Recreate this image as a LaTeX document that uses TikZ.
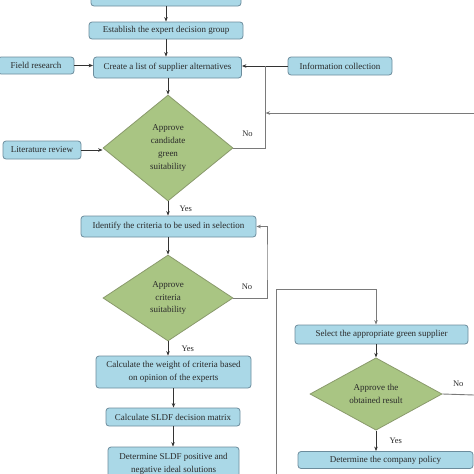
\documentclass[tikz,border=0pt]{standalone}
\usepackage{fontspec}
\setmainfont{Liberation Serif}
\usetikzlibrary{positioning, shapes.geometric, arrows.meta}
\definecolor{boxB}{HTML}{AAD8E7}
\definecolor{boxE}{HTML}{6C8C9C}
\definecolor{decG}{HTML}{A9C583}
\definecolor{decE}{HTML}{8A9A6C}
\definecolor{lineK}{HTML}{333333}
\definecolor{loopK}{HTML}{7A7A7A}
\definecolor{txtK}{HTML}{2A2A2A}

\tikzset{
  stepbox/.style={draw=boxE, fill=boxB, rounded corners=3pt, line width=0.8pt,
    text=txtK, align=center, inner sep=0pt},
  check/.style={diamond, draw=decE, fill=decG, line width=0.8pt,
    text=txtK, align=center, inner sep=0pt},
  flow/.style={lineK, line width=0.7pt, -{Stealth[length=4.5pt,width=3.5pt]}},
  back/.style={loopK, line width=0.9pt},
  tag/.style={text=txtK, font=\fontsize{8.5}{9}\selectfont}
}

\begin{document}
\begin{tikzpicture}[x=1pt, y=-1pt, font=\fontsize{9}{12.8}\selectfont]
  \useasboundingbox (0,0) rectangle (474,474);
  \clip (0,0) rectangle (474,474);

  % left column
  \node[stepbox, minimum width=150pt, minimum height=22pt] (start) at (166,-5) {};
  \node[stepbox, minimum width=154pt, minimum height=17pt] (group) at (166,30.5)
     {Establish the expert decision group};
  \node[stepbox, minimum width=148pt, minimum height=21pt] (list) at (167.5,67.5)
     {Create a list of supplier alternatives};
  \node[stepbox, minimum width=76pt, minimum height=17pt] (field) at (36,65.5)
     {Field research};
  \node[stepbox, minimum width=104pt, minimum height=18pt] (info) at (340,66)
     {Information collection};
  \node[check, minimum width=130pt, minimum height=106pt] (cand) at (168,148)
     {Approve\\candidate\\green\\suitability};
  \node[stepbox, minimum width=78pt, minimum height=18pt] (lit) at (42,150)
     {Literature review};
  \node[stepbox, minimum width=175pt, minimum height=21pt] (crit) at (168.5,226.5)
     {Identify the criteria to be used in selection};
  \node[check, minimum width=130pt, minimum height=86pt] (critok) at (168,298)
     {Approve\\criteria\\suitability};
  \node[stepbox, minimum width=155pt, minimum height=32pt] (weight) at (173.5,372)
     {Calculate the weight of criteria based\\on opinion of the experts};
  \node[stepbox, minimum width=134pt, minimum height=18pt] (matrix) at (173,417)
     {Calculate SLDF decision matrix};
  \node[stepbox, minimum width=131pt, minimum height=34pt] (ideal) at (173.5,464)
     {Determine SLDF positive and\\negative ideal solutions};

  % right column
  \node[stepbox, minimum width=173pt, minimum height=19pt] (select) at (381.5,334.5)
     {Select the appropriate green supplier};
  \node[check, minimum width=132pt, minimum height=68pt] (result) at (376,394)
     {Approve the\\obtained result};
  \node[stepbox, minimum width=175pt, minimum height=17pt] (policy) at (385.5,460)
     {Determine the company policy};

  \coordinate (backA) at (265.5,66);
  \coordinate (backB) at (267,262);
  \coordinate (inR) at (474,113);
  \coordinate (feedB) at (276,480);
  \coordinate (feedT) at (276,289);
  \coordinate (outR) at (474,395);

  % main flow
  \draw[flow] (start) -- (group);
  \draw[flow] (group.south) -- (group.south |- list.north);
  \draw[flow] (list.south -| cand.north) -- (cand.north);
  \draw[flow] (field.east) -- (field.east -| list.west);
  \draw[flow] (info.west) -- (info.west -| list.east);
  \draw[flow] (lit.east) -- (lit.east -| cand.west);
  \draw[flow] (cand.south) -- (cand.south |- crit.north)
     node[tag, midway, right=8pt] {Yes};
  \draw[flow] (crit.south -| critok.north) -- (critok.north);
  \draw[flow] (critok.south) -- (critok.south |- weight.north)
     node[tag, midway, right=10pt] {Yes};
  \draw[flow] (weight.south) -- (weight.south |- matrix.north);
  \draw[flow] (matrix.south) -- (matrix.south |- ideal.north);
  \draw[flow] (select.south -| result.north) -- (result.north);
  \draw[flow] (result.south) -- (result.south |- policy.north)
     node[tag, midway, right=10pt] {Yes};

  % loops
  \draw[back] (cand.east) -| (backA) node[tag, pos=0.25, above=8pt, xshift=-2pt] {No};
  \draw[back, -{Stealth[length=4.5pt,width=3.5pt]}] (inR) -- (inR -| backA);
  \draw[back, -{Stealth[length=4.5pt,width=3.5pt]}] (critok.east) -| (backB) |- (crit.east);
  \node[tag] (noB) at (247,287) {No};
  \draw[back, -{Stealth[length=4.5pt,width=3.5pt]}] (feedB) -- (feedT) -| (result.north |- select.north);
  \draw[back] (result.east) -- (outR) node[tag, midway, above=4pt] {No};
\end{tikzpicture}
\end{document}
